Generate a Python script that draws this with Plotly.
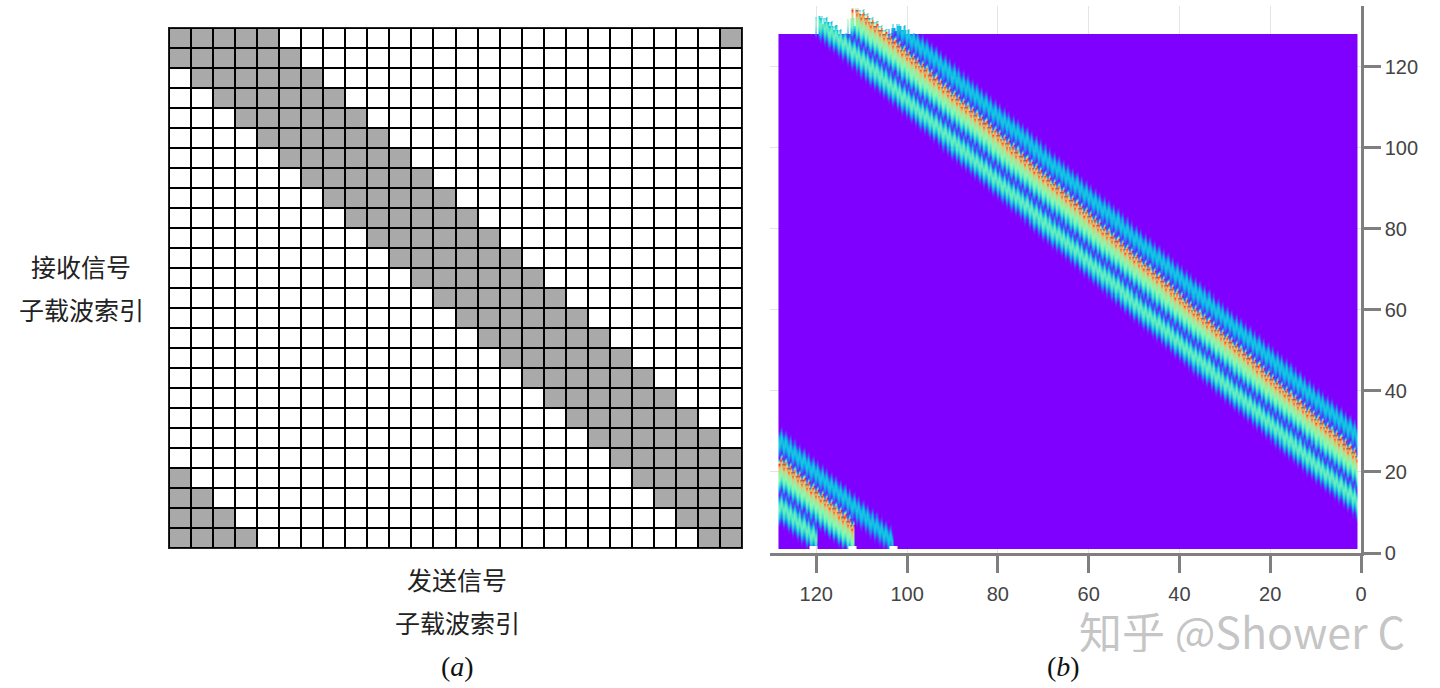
import numpy as np
import plotly.graph_objects as go

# ---- left panel: occupied cells, top row first ('#' = occupied)
grid_rows = [
    "#####....................#",
    "######....................",
    ".######...................",
    "..######..................",
    "...######.................",
    "....######................",
    ".....######...............",
    "......######..............",
    ".......######.............",
    "........######............",
    ".........######...........",
    "..........######..........",
    "...........######.........",
    "............######........",
    ".............######.......",
    "..............######......",
    "...............######.....",
    "................######....",
    ".................######...",
    "..................######..",
    "...................######.",
    "....................######",
    "#....................#####",
    "##....................####",
    "###....................###",
    "####....................##",
]

# ---- right panel: amplitude against (receive index - transmit index)
band_offsets = [0, 7.5, 8.5, 9.5, 10.5, 11.5, 12.5, 13.5, 14.5, 15.3, 16, 17, 18, 19, 20, 21, 22, 23, 23.6, 24.4, 25.3, 26.3, 27.3, 28.3, 29.3, 30.3, 31, 127]
band_values = [0, 0, 0.12, 0.27, 0.38, 0.46, 0.44, 0.33, 0.15, 0.02, 0.14, 0.30, 0.42, 0.50, 0.55, 0.60, 0.72, 0.95, 0.45, 0.02, 0.12, 0.22, 0.30, 0.31, 0.24, 0.10, 0, 0]
# how far the top-row ridge rises above the top edge, against the same offset
lift_offsets = [0, 8, 9, 10, 11, 12, 13, 14, 15, 16, 17, 18, 19, 20, 21, 22, 23, 24, 25, 26, 27, 28, 29, 127]
lift_values = [0, 0, 4.7, 4.0, 3.0, 2.0, 1.0, 0, 0, 4.0, 6.7, 6.0, 5.0, 4.0, 3.0, 2.0, 1.0, 0, 1.5, 2.7, 2.0, 1.0, 0, 0]
# wrapped bands stop at these columns near the bottom edge
wrap_band_starts = [7, 15.3, 24.4]
wrap_band_ends = [15.3, 24.4, 32]
wrap_band_stops = [119.7, 111.7, 102.9]
notch_columns = [120.5, 112, 103]
# sideways saw of one column, four samples
tooth_shift = [0.95, 0.25, -0.95, -0.25]

x_ticks = [120, 100, 80, 60, 40, 20, 0]
y_ticks = [120, 100, 80, 60, 40, 20, 0]

SUB = 4
cols = 1 + np.arange(127 * SUB + 1) / SUB
rws = 1 + np.arange(134 * SUB + 1) / SUB
C, R = np.meshgrid(cols, rws)
saw = np.array(tooth_shift)[(np.arange(cols.size) % SUB)][None, :]
D = R - C + saw
wrapped = D < 0
Dm = np.where(wrapped, D + 128, D)
Z = np.interp(Dm, band_offsets, band_values)
for a, b, s in zip(wrap_band_starts, wrap_band_ends, wrap_band_stops):
    Z[wrapped & (Dm >= a) & (Dm < b) & (C < s)] = 0
top_limit = 128 + np.interp(128 - C + saw, lift_offsets, lift_values)
Z = np.round(Z, 3).astype(object)
Z[R > top_limit] = None
for c in notch_columns:
    Z[(R < 1.8) & (np.abs(C - c) < 0.9)] = None
z = Z.tolist()

W, H = 1440, 688
def dom_x(a, b): return [a / W, b / W]
def dom_y(top, bottom): return [1 - bottom / H, 1 - top / H]

fig = go.Figure()

n = len(grid_rows)
cells = [[1 if ch == "#" else 0 for ch in row] for row in grid_rows]
fig.add_trace(go.Heatmap(z=[[0] * n for _ in range(n)], colorscale=[[0, "#000"], [1, "#000"]], showscale=False,
                         xaxis="x", yaxis="y", hoverinfo="skip"))
fig.add_trace(go.Heatmap(z=cells, zmin=0, zmax=1, colorscale=[[0, "#ffffff"], [1, "#a9a9a9"]], showscale=False,
                         xgap=2, ygap=2, xaxis="x", yaxis="y"))

rainbow = [[0, "#8000ff"], [0.25, "#00b4ec"], [0.5, "#80ffb4"], [0.75, "#ffb360"], [1, "#ff0000"]]
fig.add_trace(go.Heatmap(x=(cols * 1.0024 - 0.1).round(3).tolist(), y=(rws * 1.0008).round(3).tolist(), z=z,
                         zmin=0, zmax=1, zsmooth="best", colorscale=rainbow, showscale=False,
                         xaxis="x2", yaxis="y2", hoverinfo="skip"))

fig.update_layout(
    width=W, height=H, margin=dict(l=0, r=0, t=0, b=0, autoexpand=False), paper_bgcolor="white", plot_bgcolor="white",
    showlegend=False,
    xaxis=dict(domain=dom_x(169, 742), anchor="y", range=[-0.5, 25.5], showgrid=False, zeroline=False,
               showticklabels=False, ticks="", showline=True, mirror=True, linecolor="#222", linewidth=1),
    yaxis=dict(domain=dom_y(28, 548), anchor="x", range=[25.5, -0.5], showgrid=False, zeroline=False,
               showticklabels=False, ticks="", showline=True, mirror=True, linecolor="#222", linewidth=1),
    xaxis2=dict(domain=dom_x(770, 1361), anchor="y2", range=[130.2, 0], tickvals=x_ticks, ticks="outside", ticklen=17,
                tickwidth=2.5, tickcolor="#7f7f7f", showline=True, linecolor="#7f7f7f", linewidth=2.5,
                gridcolor="#e4e4e4", gridwidth=1, zeroline=False, ticklabelstandoff=4,
                tickfont=dict(family="Liberation Sans", size=20, color="#444")),
    yaxis2=dict(domain=dom_y(6, 553), anchor="x2", side="right", range=[0, 135], tickvals=y_ticks, ticks="outside", ticklen=17,
                tickwidth=2.5, tickcolor="#7f7f7f", showline=True, linecolor="#7f7f7f", linewidth=2.5,
                gridcolor="#e4e4e4", gridwidth=1, zeroline=False, ticklabelstandoff=0,
                tickfont=dict(family="Liberation Sans", size=20, color="#444")),
)

cjk = dict(family="Noto Sans CJK SC", size=25, color="#222")
def label(text, cx, cy, font, **kw):
    fig.add_annotation(text=text, xref="paper", yref="paper", x=cx / W, y=1 - cy / H, showarrow=False,
                       xanchor="center", yanchor="middle", font=font, **kw)

label("接收信号", 81, 266, cjk)
label("子载波索引", 81, 309, cjk)
label("发送信号", 457, 579, cjk)
label("子载波索引", 457, 622, cjk)
serif = dict(family="Liberation Serif", size=28, color="#111")
label("(<i>a</i>)", 457, 666, serif)
label("(<i>b</i>)", 1063, 666, serif)
label("知乎 @Shower C", 1242, 630, dict(family="Noto Sans CJK SC", size=43, color="rgba(140,140,140,0.5)"), height=44)

fig.write_html("out.html", config={"displayModeBar": False},
               post_script="document.body.style.margin='0';document.documentElement.style.overflow='hidden';")
